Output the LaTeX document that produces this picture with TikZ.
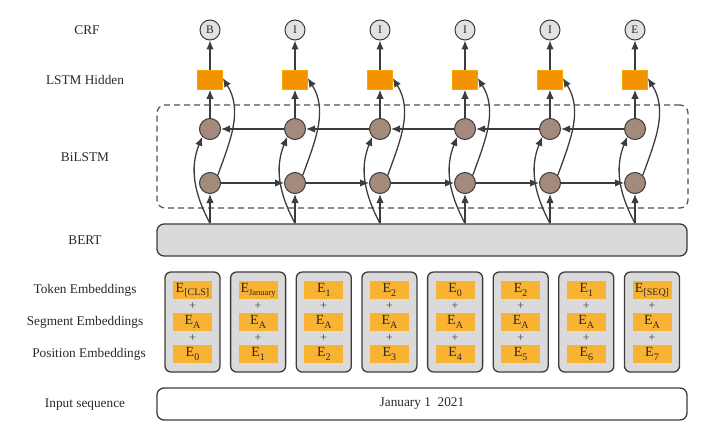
\documentclass[tikz,border=0pt]{standalone}
\usepackage{fontspec}
\setmainfont{Liberation Serif}
\usetikzlibrary{arrows.meta,calc}
\definecolor{lin}{RGB}{60,60,60}
\definecolor{txt}{RGB}{40,40,40}
\definecolor{hidor}{RGB}{243,146,0}
\definecolor{embor}{RGB}{248,178,52}
\definecolor{cellc}{RGB}{164,138,122}
\definecolor{crfc}{RGB}{226,226,226}
\definecolor{boxg}{RGB}{218,218,218}
\newcommand\sbx[2][10]{\raisebox{-0.5ex}{\fontsize{#1}{#1}\selectfont #2}}
\tikzset{
  lab/.style={font=\fontsize{13.3}{15}\selectfont, text=txt},
  crf/.style={circle, draw=lin, line width=1pt, fill=crfc, minimum size=20pt, inner sep=0pt, font=\fontsize{11.5}{12}\selectfont, text=txt},
  hid/.style={rectangle, fill=hidor, draw=hidor!80!yellow, line width=0.5pt, minimum width=25pt, minimum height=19pt, inner sep=0pt},
  cell/.style={circle, draw=lin, line width=1pt, fill=cellc, minimum size=21pt, inner sep=0pt},
  arr/.style={draw=lin, line width=1.3pt, -{Latex[length=9pt,width=7.5pt]}},
  dashbox/.style={draw=lin!90, line width=1.2pt, dash pattern=on 6pt off 4pt, rounded corners=8pt, inner sep=0pt},
  bertbox/.style={draw=lin, line width=1.3pt, fill=boxg, rounded corners=7pt, inner sep=0pt},
  inbox/.style={draw=lin, line width=1.3pt, fill=white, rounded corners=7pt, inner sep=0pt, font=\fontsize{13.3}{15}\selectfont, text=txt},
  embbox/.style={draw=lin, line width=1.3pt, fill=boxg, rounded corners=6pt, minimum width=55pt, minimum height=100pt, inner sep=0pt},
  emb/.style={fill=embor, minimum width=39pt, minimum height=18pt, inner sep=0pt, font=\fontsize{14}{15}\selectfont, text=txt},
  plus/.style={inner sep=0pt, font=\fontsize{12}{12}\selectfont, text=lin}
}
\begin{document}
\begin{tikzpicture}[x=1pt,y=1pt]
\useasboundingbox (0,0) rectangle (720,-436);
% left labels
\node[lab] (lcrf) at (87,-30) {CRF};
\node[lab] (lhid) at (85,-80) {LSTM Hidden};
\node[lab] (lbil) at (85,-157) {BiLSTM};
\node[lab] (lbert) at (85,-240) {BERT};
\node[lab] (ltok) at (85,-290) {Token Embeddings};
\node[lab] (lseg) at (85,-322) {Segment Embeddings};
\node[lab] (lpos) at (89,-354) {Position Embeddings};
\node[lab] (linp) at (85,-405) {Input sequence};
% boxes
\node[dashbox, minimum width=531pt, minimum height=103pt] (bil) at (422.5,-156.5) {};
\node[bertbox, minimum width=530pt, minimum height=32pt] (bert) at (422,-240) {};
\node[inbox, minimum width=530pt, minimum height=32pt] (inp) at (422,-404) {\raisebox{-1.5pt}{January 1\ \ 2021}};
% columns
\foreach \i/\x/\t in {1/210/B,2/295/I,3/380/I,4/465/I,5/550/I,6/635/E}{
  \node[crf] (c\i) at (\x,-30) {\t};
  \node[hid] (h\i) at (\x,-80) {};
  \node[cell] (u\i) at (\x,-129) {};
  \node[cell] (l\i) at (\x,-183) {};
  \coordinate (b\i) at (u\i |- bert.north);
  \draw[arr] (b\i) -- (l\i);
  \draw[arr] (u\i) -- (h\i);
  \draw[arr] (h\i) -- (c\i);
  \draw[arr] (b\i) to[out=118,in=248] (u\i.south west);
  \draw[arr] (l\i.north east) to[out=70,in=-58] ([yshift=2pt]h\i.east);
}
\foreach \i/\j in {1/2,2/3,3/4,4/5,5/6}{
  \draw[arr] (l\i) -- (l\j);
  \draw[arr] (u\j) -- (u\i);
}
% embeddings
\foreach \k/\x/\tok in {0/192.5/{E\sbx{[CLS]}},1/258.1/{E\sbx[8.5]{January}},2/323.8/{E\sbx{1}},3/389.4/{E\sbx{2}},4/455.1/{E\sbx{0}},5/520.7/{E\sbx{2}},6/586.3/{E\sbx{1}},7/652/{E\sbx{[SEQ]}}}{
  \node[embbox] (e\k) at (\x,-322) {};
  \node[emb] (t\k) at (\x,-290) {\tok};
  \node[plus] (pa\k) at (\x,-306) {+};
  \node[emb] (s\k) at (\x,-322) {E\sbx{A}};
  \node[plus] (pb\k) at (\x,-338) {+};
  \node[emb] (q\k) at (\x,-354) {E\sbx{\k}};
}
\end{tikzpicture}
\end{document}
